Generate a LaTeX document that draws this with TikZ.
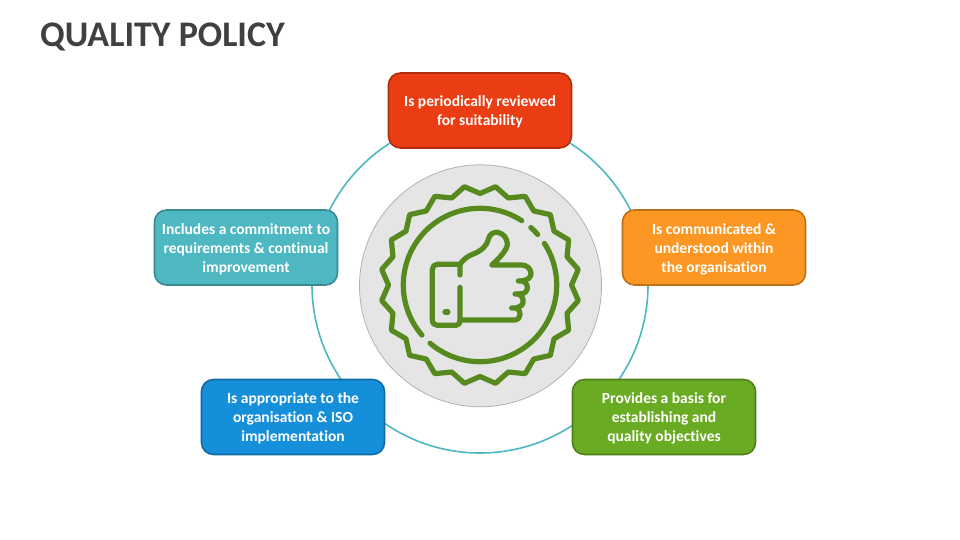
\documentclass[tikz,border=0pt]{standalone}
\usepackage{fontspec}
\usetikzlibrary{calc}
\setmainfont{Carlito}[Ligatures=NoCommon]
\definecolor{ringc}{HTML}{4DB8C2}
\definecolor{iconc}{HTML}{568A1F}
\definecolor{titlec}{HTML}{404040}
\definecolor{boxa}{HTML}{EB3D13}
\definecolor{boxb}{HTML}{FC9723}
\definecolor{boxc}{HTML}{6AAB24}
\definecolor{boxd}{HTML}{158FD9}
\definecolor{boxe}{HTML}{4DB8C2}
\newcommand\liftline{\rule{0pt}{14pt}}
\tikzset{
  box/.style={draw=#1!75!black,line width=1.6pt,rounded corners=12pt,minimum width=183pt,minimum height=75pt,
    align=center,text=white,inner sep=0pt,font=\fontsize{15.5}{19}\selectfont\bfseries,fill=#1},
  iconline/.style={draw=iconc,line width=5.2pt,line cap=round,line join=round},
}
\begin{document}
\begin{tikzpicture}[x=1pt,y=-1pt]
\useasboundingbox (0,0) rectangle (960,540);
\fill[white] (0,0) rectangle (960,540);
\node[anchor=west,text=titlec,inner sep=0pt,font=\fontsize{36}{40}\selectfont\bfseries] (title) at (40,36.5) {QUALITY POLICY};
\coordinate (c) at (480,285);
\node[circle,draw=ringc,line width=1.6pt,minimum size=336pt,inner sep=0pt] (ring) at (c) {};
\node[circle,draw=black!30,fill=black!10,line width=0.8pt,minimum size=242pt,inner sep=0pt] (disc) at (480.5,285.8) {};
\node[box=boxa] (top) at (480,110.5) {\liftline Is periodically reviewed\\for suitability};
\node[box=boxb] (right) at (714,247.5) {\liftline Is communicated \&\\understood within\\the organisation};
\node[box=boxc] (br) at (664,417) {\liftline Provides a basis for\\establishing and\\quality objectives};
\node[box=boxd] (bl) at (293,417) {\liftline Is appropriate to the\\organisation \& ISO\\implementation};
\node[box=boxe] (left) at (246,247.5) {\liftline Includes a commitment to\\requirements \& continual\\improvement};
% seal
\draw[iconline,shift={(480,285)}] (0:91.5pt) \foreach \a in {0,18,...,342} { -- (\a:91.5pt) -- (\a+9:99.5pt)} -- cycle;
% inner broken circle
\draw[iconline] ($(c)+(32.9:76.7pt)$) arc[start angle=32.9,end angle=-130.6,radius=76.7pt];
\draw[iconline] ($(c)+(48.5:76.7pt)$) arc[start angle=48.5,end angle=41.2,radius=76.7pt];
\draw[iconline] ($(c)+(57:76.7pt)$) arc[start angle=57,end angle=220.8,radius=76.7pt];
% thumb
\begin{scope}[shift={(420,220)},x=0.3333pt,y=-0.3333pt]
\draw[iconline] (120,165) -- (120,133) -- (52,133) .. controls (43,133) and (37,139) .. (37,148)
  -- (37,300) .. controls (37,310) and (43,316) .. (52,316) -- (108,316) .. controls (116,316) and (120,310) .. (120,302) -- (120,202);
\draw[iconline] (75,276) -- (84,276);
\draw[iconline] (120,133) .. controls (130,118) and (145,107) .. (160,102)
  .. controls (185,92) and (200,78) .. (205,58)
  .. controls (208,42) and (222,35) .. (233,37)
  .. controls (250,40) and (262,55) .. (262,72)
  .. controls (262,90) and (235,118) .. (215,135)
  -- (305,135) .. controls (322,135) and (333,148) .. (333,160)
  .. controls (333,172) and (325,183) .. (295,183);
\draw[iconline] (305,183) .. controls (322,185) and (327,205) .. (318,215) .. controls (312,222) and (300,222) .. (285,222);
\draw[iconline] (295,222) .. controls (312,226) and (312,250) .. (305,256) .. controls (298,264) and (288,264) .. (275,264);
\draw[iconline] (288,264) .. controls (305,268) and (305,298) .. (285,300) -- (120,300);
\end{scope}
\end{tikzpicture}
\end{document}
